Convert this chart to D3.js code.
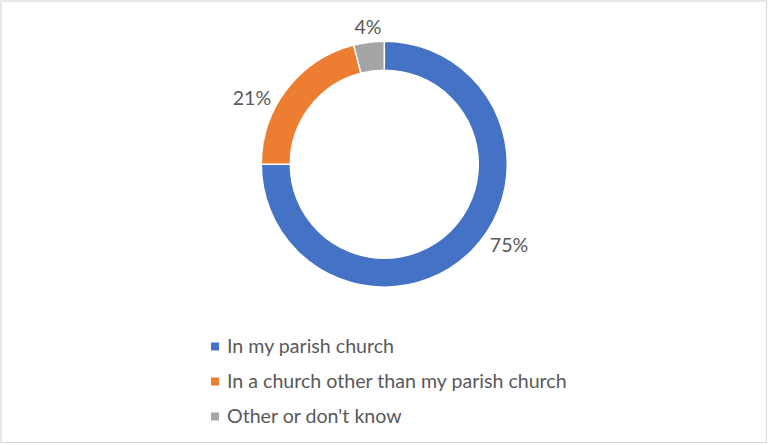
<!DOCTYPE html>
<html>
<head>
<meta charset="utf-8">
<script src="https://cdn.jsdelivr.net/npm/d3@7"></script>
<style>
  html, body { margin: 0; padding: 0; background: #fff; }
  svg { display: block; }
  text { font-family: Lato, "Noto Sans", sans-serif; fill: #595959; }
</style>
</head>
<body>
<svg id="chart" width="768" height="445"></svg>
<script>
// ---- data ----
const categories = ["In my parish church", "In a church other than my parish church", "Other or don't know"];
const values = [75, 21, 4];
const labels = ["75%", "21%", "4%"];
const colors = ["#4472C4", "#ED7D31", "#A5A5A5"];

// ---- layout ----
const W = 768, H = 445;
const cx = 384.3, cy = 164.2;
const outerR = 123, innerR = 94;
const labelNudge = [[48, 10.8], [-46.6, 7.3], [-2.7, -22.6]];
const labelFont = 19.6;
const legendFont = 19.6;

const svg = d3.select("#chart");

svg.append("rect")
  .attr("x", 1).attr("y", 1).attr("width", W - 2.5).attr("height", H - 3.5)
  .attr("fill", "#fff").attr("stroke", "#d9d9d9").attr("stroke-width", 1.2);

const data = categories.map((c, i) => ({ cat: c, value: values[i], label: labels[i], color: colors[i], i }));

const pie = d3.pie().sort(null).value(d => d.value);
const arc = d3.arc().innerRadius(innerR).outerRadius(outerR);
const arcs = pie(data);

const g = svg.append("g").attr("transform", `translate(${cx},${cy})`);

g.selectAll("path.slice")
  .data(arcs)
  .join("path")
  .attr("class", "slice")
  .attr("d", arc)
  .attr("fill", d => d.data.color)
  .attr("stroke", "#fff")
  .attr("stroke-width", 1.5);

g.selectAll("text.lbl")
  .data(arcs)
  .join("text")
  .attr("class", "lbl")
  .attr("x", d => arc.centroid(d)[0] + labelNudge[d.data.i][0])
  .attr("y", d => arc.centroid(d)[1] + labelNudge[d.data.i][1])
  .attr("text-anchor", "middle")
  .attr("font-size", labelFont)
  .text(d => d.data.label);

// ---- legend ----
const legendY = d3.scalePoint().domain(categories).range([346.5, 416.5]);
const lg = svg.append("g");
const rows = lg.selectAll("g.row").data(data).join("g").attr("class", "row")
  .attr("transform", d => `translate(0,${legendY(d.cat)})`);
rows.append("rect")
  .attr("x", 211).attr("y", -4).attr("width", 8).attr("height", 8)
  .attr("fill", d => d.color);
rows.append("text")
  .attr("x", 227).attr("y", 6.2)
  .attr("font-size", legendFont)
  .text(d => d.cat);
</script>
</body>
</html>
